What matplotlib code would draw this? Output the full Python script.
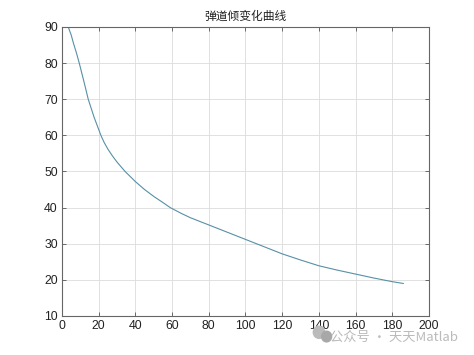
#!/usr/bin/env python3
import matplotlib
matplotlib.use('Agg')
import matplotlib.pyplot as plt
from matplotlib.patches import Ellipse

# curve
x_vals = [3.4, 5.0, 6.3, 8.0, 9.4, 12.0, 14.3, 17.5, 21.2, 23.0, 25.0, 27.5, 30.0,
          34.4, 40.0, 45.0, 50.0, 55.0, 59.0, 65.0, 70.0, 80.0, 90.0, 100.0,
          110.0, 120.0, 130.0, 140.0, 150.0, 160.0, 170.0, 180.0, 186.0]
y_vals = [90.0, 87.8, 85.4, 82.6, 80.0, 74.8, 70.0, 65.0, 60.0, 58.0, 56.2, 54.3, 52.6,
          50.0, 47.2, 45.0, 43.1, 41.4, 40.0, 38.4, 37.2, 35.2, 33.2, 31.2,
          29.2, 27.2, 25.5, 23.9, 22.7, 21.6, 20.5, 19.5, 19.0]
x_ticks = list(range(0, 201, 20))
y_ticks = list(range(10, 91, 10))
title = '弹道倾变化曲线'
watermark = '公众号 · 天天Matlab'

plt.rcParams['font.family'] = ['Liberation Sans', 'Noto Sans CJK SC', 'DejaVu Sans']

fig = plt.figure(figsize=(4.74, 3.55), dpi=100)
ax = fig.add_axes([0.1308, 0.1099, 0.7742, 0.8141])
ax.plot(x_vals, y_vals, color='#5790a6', linewidth=0.8)

ax.set_xlim(0, 200)
ax.set_ylim(10, 90)
ax.set_xticks(x_ticks)
ax.set_yticks(y_ticks)
ax.grid(True, color='#dcdcdc', linewidth=0.6)
ax.set_axisbelow(True)
ax.tick_params(direction='in', length=3, width=0.6, colors='#555555',
               labelcolor='#222222', labelsize=8.8, top=True, right=True,
               labeltop=False, labelright=False, pad=3)
for s in ax.spines.values():
    s.set_color('#666666')
    s.set_linewidth(0.8)
ax.set_title(title, fontsize=8.5, color='#222222', pad=5,
             family=['Noto Sans CJK SC', 'DejaVu Sans'])

# watermark
fig.text(0.966, 0.051, watermark, ha='right', va='center', fontsize=9.5,
         color='#bbbbbb', family=['Noto Sans CJK SC', 'DejaVu Sans'])
fig.patches.append(Ellipse((0.673, 0.064), 0.024, 0.034, transform=fig.transFigure,
                           color='#bbbbbb', zorder=5))
fig.patches.append(Ellipse((0.689, 0.052), 0.021, 0.030, transform=fig.transFigure,
                           color='#a8a8a8', zorder=6))

fig.savefig('out.png', dpi=100)
plt.close(fig)
